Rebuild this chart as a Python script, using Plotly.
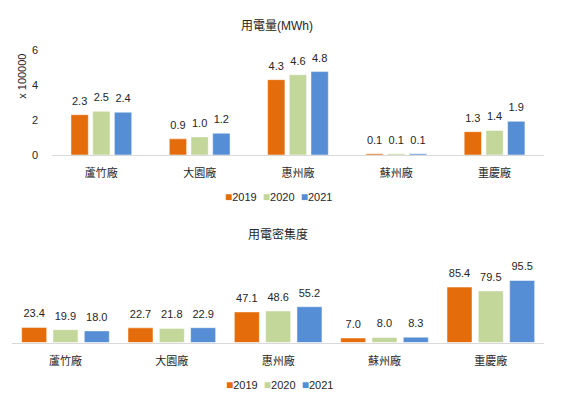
import plotly.graph_objects as go

plants = ["蘆竹廠", "大園廠", "惠州廠", "蘇州廠", "重慶廠"]
years = ["2019", "2020", "2021"]

# 用電量, x 100000 MWh
usage = {
    "2019": [2.30, 0.92, 4.30, 0.07, 1.33],
    "2020": [2.49, 1.03, 4.58, 0.07, 1.40],
    "2021": [2.44, 1.24, 4.76, 0.07, 1.92],
}
# 用電密集度
intensity = {
    "2019": [23.4, 22.7, 47.1, 7.0, 85.4],
    "2020": [19.9, 21.8, 48.6, 8.0, 79.5],
    "2021": [18.0, 22.9, 55.2, 8.3, 95.5],
}

colors = {"2019": "#E46C0A", "2020": "#C4D79B", "2021": "#558ED5"}
FONT = "Liberation Sans, Noto Sans CJK TC, sans-serif"
TXT = "#262626"

W, H = 567, 402
PAGE = 8  # page body margin around the plot div

def px(x):  # screen pixel -> paper
    return (x - PAGE) / W
def py(y):
    return 1 - (y - PAGE) / H

fig = go.Figure()
idx = list(range(len(plants)))

def add_group(data, xa, ya, width, step):
    for i, yr in enumerate(years):
        xs = [k + (i - 1) * step for k in idx]
        vals = data[yr]
        fig.add_trace(go.Bar(
            x=xs, y=vals, name=yr, xaxis=xa, yaxis=ya, width=width,
            marker=dict(color=colors[yr], line=dict(color="rgba(255,255,255,0.6)", width=0.8)),
            showlegend=False, hoverinfo="skip",
        ))
        # value labels sitting above each bar
        fig.add_trace(go.Scatter(
            x=xs, y=vals, xaxis=xa, yaxis=ya, mode="markers+text",
            text=[f"{v:.1f}" for v in vals], textposition="top center",
            textfont=dict(size=11, color=TXT, family=FONT),
            marker=dict(size=10, color="rgba(0,0,0,0)"),
            cliponaxis=False, showlegend=False, hoverinfo="skip",
        ))

add_group(usage, "x", "y", 0.176, 0.2207)
add_group(intensity, "x2", "y2", 0.235, 0.2945)

# legend as a line of text with coloured squares
legend_text = " &nbsp;".join(
    f"<span style='color:{colors[yr]};font-size:12px'>■</span>{yr}" for yr in years
)

def note(text, x, y, size=11, angle=0):
    return dict(text=text, x=px(x), y=py(y), xref="paper", yref="paper",
                xanchor="center", yanchor="middle", showarrow=False,
                textangle=angle, font=dict(size=size, color=TXT))

cat_axis = dict(range=[-0.5, 4.5], tickvals=idx, ticktext=plants,
                showline=True, linecolor="#D9D9D9", linewidth=1, showgrid=False,
                zeroline=False, ticks="outside", ticklen=8,
                tickcolor="rgba(0,0,0,0)", tickfont=dict(size=11, color=TXT))

fig.update_layout(
    width=W, height=H,
    margin=dict(l=0, r=0, t=0, b=0),
    paper_bgcolor="white", plot_bgcolor="white",
    font=dict(family=FONT, size=11, color=TXT),
    barmode="overlay",
    showlegend=False,
    xaxis=dict(cat_axis, domain=[px(52.2), px(543.7)], anchor="y"),
    yaxis=dict(domain=[py(153.3), py(45)], anchor="x", range=[0, 6],
               tickvals=[0, 2, 4, 6], showgrid=False, zeroline=False,
               showline=False, ticklabelstandoff=13,
               tickfont=dict(size=11, color=TXT)),
    xaxis2=dict(cat_axis, domain=[px(12.3), px(544)], anchor="y2"),
    yaxis2=dict(domain=[py(346.7), py(259.6)], anchor="x2", range=[0, 130],
                visible=False),
    annotations=[
        note("用電量(MWh)", 277.3, 20, size=12),
        note("用電密集度", 278.3, 235, size=12),
        note("x 100000", 21.7, 72, angle=-90),
        note(legend_text, 278.5, 196.7),
        note(legend_text, 279.8, 390),
    ],
)

fig.write_html("out.html")
